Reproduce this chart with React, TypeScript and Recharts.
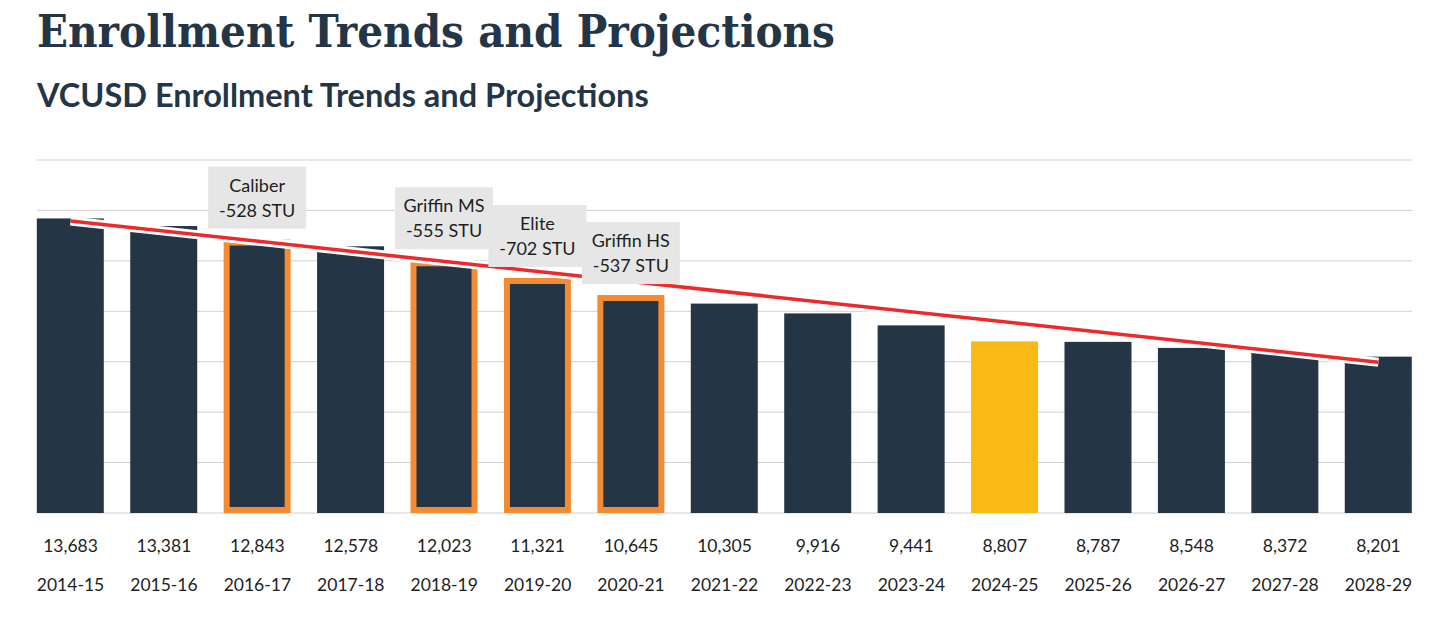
import { Bar, CartesianGrid, ComposedChart, LabelList, Line, XAxis, YAxis } from 'recharts';

const years = [
  '2014-15', '2015-16', '2016-17', '2017-18', '2018-19', '2019-20', '2020-21', '2021-22',
  '2022-23', '2023-24', '2024-25', '2025-26', '2026-27', '2027-28', '2028-29',
];
const enrollment = [13683, 13381, 12843, 12578, 12023, 11321, 10645, 10305, 9916, 9441, 8807, 8787, 8548, 8372, 8201];

// trend line read at the first and last year only
const trendStart = 13580;
const trendEnd = 7980;

const closureYears = ['2016-17', '2018-19', '2019-20', '2020-21'];
const closureNames = ['Caliber', 'Griffin MS', 'Elite', 'Griffin HS'];
const closureLosses = [-528, -555, -702, -537];

const currentYear = '2024-25';
const yTicks = [2000, 4000, 6000, 8000, 10000, 12000, 14000, 16000];

const NAVY = '#243646';
const ORANGE = '#f48b32';
const YELLOW = '#fbb915';
const RED = '#ec2a2c';
const FONT = 'Lato, "Noto Sans", sans-serif';

const rows = years.map((year, i) => ({
  year,
  enrollment: enrollment[i],
  trend: i === 0 ? trendStart : i === years.length - 1 ? trendEnd : null,
  note: closureYears.includes(year) ? year : null,
}));

function EnrollmentBar(props: any) {
  const { x, y, width, height, payload } = props;
  if (closureYears.includes(payload.year)) {
    const inset = 6;
    return (
      <g>
        <rect x={x} y={y} width={width} height={height} fill={ORANGE} />
        <rect x={x + inset} y={y + inset} width={width - inset * 2} height={height - inset * 2} fill={NAVY} />
      </g>
    );
  }
  const fill = payload.year === currentYear ? YELLOW : NAVY;
  return <rect x={x} y={y} width={width} height={height} fill={fill} />;
}

function ClosureNote(props: any) {
  const box = props.viewBox ?? props;
  const { x, y, width } = box;
  const k = closureYears.indexOf(props.value);
  if (k < 0 || x == null) return null;
  const cx = x + width / 2;
  const boxW = 98;
  const boxH = 62;
  const top = y - 11 - boxH;
  return (
    <g>
      <rect x={cx - boxW / 2} y={top} width={boxW} height={boxH} fill="#e6e6e6" />
      <text x={cx} y={top + 18} textAnchor="middle" dominantBaseline="central" fontFamily={FONT} fontSize={18} fill="#1e1e1e">
        {closureNames[k]}
      </text>
      <text x={cx} y={top + 43} textAnchor="middle" dominantBaseline="central" fontFamily={FONT} fontSize={18} fill="#1e1e1e">
        {`${closureLosses[k]} STU`}
      </text>
    </g>
  );
}

function YearTick(props: any) {
  const { x, y, payload } = props;
  const i = years.indexOf(payload.value);
  return (
    <g>
      <text x={x} y={y + 32} textAnchor="middle" dominantBaseline="central" fontFamily={FONT} fontSize={17.5} fill="#1e1e1e">
        {enrollment[i].toLocaleString('en-US')}
      </text>
      <text x={x} y={y + 71} textAnchor="middle" dominantBaseline="central" fontFamily={FONT} fontSize={17.5} fill="#1e1e1e">
        {payload.value}
      </text>
    </g>
  );
}

export default function App() {
  return (
    <div style={{ position: 'absolute', left: 0, top: 0, width: 1440, height: 628, background: '#fff' }}>
      <svg width={1440} height={140} style={{ position: 'absolute', left: 0, top: 0 }}>
        <text
          x={37}
          y={47}
          fontFamily='"DejaVu Serif", serif'
          fontWeight={700}
          fontSize={44}
          textLength={798}
          lengthAdjust="spacingAndGlyphs"
          fill={NAVY}
        >
          Enrollment Trends and Projections
        </text>
        <text x={37} y={107} fontFamily={FONT} fontWeight={700} fontSize={32.5} fill={NAVY}>
          VCUSD Enrollment Trends and Projections
        </text>
      </svg>
      <div style={{ position: 'absolute', left: 0, top: 0 }}>
        <ComposedChart
          width={1440}
          height={628}
          data={rows}
          margin={{ top: 160, right: 14.8, bottom: 0, left: 23.8 }}
        >
          <CartesianGrid vertical={false} stroke="#d0d0d0" x={37} width={1375} />
          <YAxis hide type="number" domain={[2000, 16000]} ticks={yTicks} />
          <XAxis
            dataKey="year"
            height={115}
            axisLine={false}
            tickLine={false}
            tickSize={0}
            tickMargin={0}
            interval={0}
            tick={<YearTick />}
          />
          <Bar dataKey="enrollment" barSize={67} shape={<EnrollmentBar />} isAnimationActive={false}>
            <LabelList dataKey="note" content={<ClosureNote />} />
          </Bar>
          <Line
            dataKey="trend"
            connectNulls
            dot={false}
            activeDot={false}
            stroke="#ffffff"
            strokeWidth={9}
            isAnimationActive={false}
          />
          <Line
            dataKey="trend"
            connectNulls
            dot={false}
            activeDot={false}
            stroke={RED}
            strokeWidth={3.5}
            isAnimationActive={false}
          />
        </ComposedChart>
      </div>
    </div>
  );
}
